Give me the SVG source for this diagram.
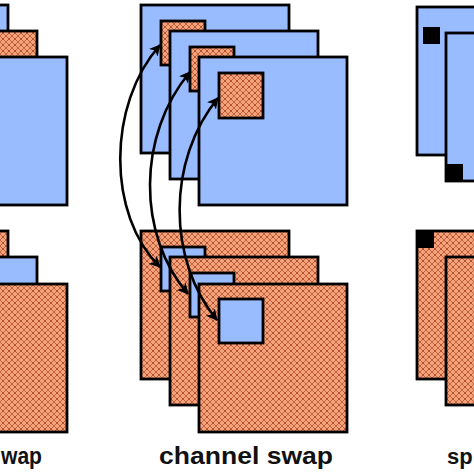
<svg xmlns="http://www.w3.org/2000/svg" width="474" height="474" viewBox="0 0 474 474">
<defs>
<pattern id="hatch" width="6" height="6" patternUnits="userSpaceOnUse">
<rect width="6" height="6" fill="#f2a37b"/>
<path d="M0,0 L6,6 M6,0 L0,6" stroke="#c05a36" stroke-width="0.9"/>
<circle cx="3" cy="3" r="0.8" fill="#a33c1c"/>
</pattern>
<marker id="ah" viewBox="0 0 10 10" refX="9" refY="5" markerWidth="4.4" markerHeight="4.4" orient="auto-start-reverse" markerUnits="strokeWidth">
<path d="M0,0 L10,5 L0,10 L2.5,5 Z" fill="#000"/>
</marker>
</defs>
<style>
.b{fill:#99bbff;stroke:#000;stroke-width:2.8}
.o{fill:url(#hatch);stroke:#000;stroke-width:2.8}
.k{fill:#000}
.arr{fill:none;stroke:#000;stroke-width:2.6;marker-start:url(#ah);marker-end:url(#ah)}
.lbl{font-family:"Liberation Sans",Arial,sans-serif;font-weight:bold;font-size:24px;fill:#111}
</style>
<rect width="474" height="474" fill="#fff"/>

<g id="left-top">
<rect class="b" x="-140" y="5" width="148" height="148"/>
<rect class="o" x="-111" y="31" width="148" height="148"/>
<rect class="b" x="-81" y="57" width="148" height="148"/>
</g>
<g id="left-bottom">
<rect class="o" x="-140" y="231" width="148" height="148"/>
<rect class="b" x="-111" y="257" width="148" height="148"/>
<rect class="o" x="-81" y="284" width="148" height="148"/>
</g>

<g id="mid-top">
<rect class="b" x="141" y="5" width="148" height="148"/>
<rect class="o" x="161" y="21" width="44" height="44"/>
<rect class="b" x="170" y="31" width="148" height="148"/>
<rect class="o" x="190" y="47" width="44" height="44"/>
<rect class="b" x="199" y="57" width="148" height="148"/>
<rect class="o" x="219" y="73" width="44" height="45"/>
</g>
<g id="mid-bottom">
<rect class="o" x="141" y="231" width="148" height="148"/>
<rect class="b" x="161" y="247" width="44" height="44"/>
<rect class="o" x="170" y="257" width="148" height="148"/>
<rect class="b" x="190" y="273" width="44" height="44"/>
<rect class="o" x="199" y="284" width="148" height="148"/>
<rect class="b" x="219" y="299" width="44" height="44"/>
</g>

<g id="right-top">
<rect class="b" x="417" y="7" width="148" height="148"/>
<rect class="k" x="423" y="27" width="17" height="17"/>
<rect class="b" x="446" y="33" width="148" height="148"/>
<rect class="k" x="446" y="164" width="17" height="18"/>
</g>
<g id="right-bottom">
<rect class="o" x="417" y="231" width="148" height="148"/>
<rect class="k" x="416" y="230" width="18" height="18"/>
<rect class="o" x="446" y="257" width="148" height="148"/>
</g>

<g id="connectors">
<path class="arr" d="M160,45 C107,105 107,215 160,267"/>
<path class="arr" d="M190,72 C137,135 137,235 188,294"/>
<path class="arr" d="M218,98 C167,160 167,260 217,320"/>
</g>

<text class="lbl" x="1" y="464" textLength="41" lengthAdjust="spacingAndGlyphs">wap</text>
<text class="lbl" x="159" y="464" textLength="174" lengthAdjust="spacingAndGlyphs">channel swap</text>
<text class="lbl" x="447" y="464" style="font-size:22px">sp</text>
</svg>
